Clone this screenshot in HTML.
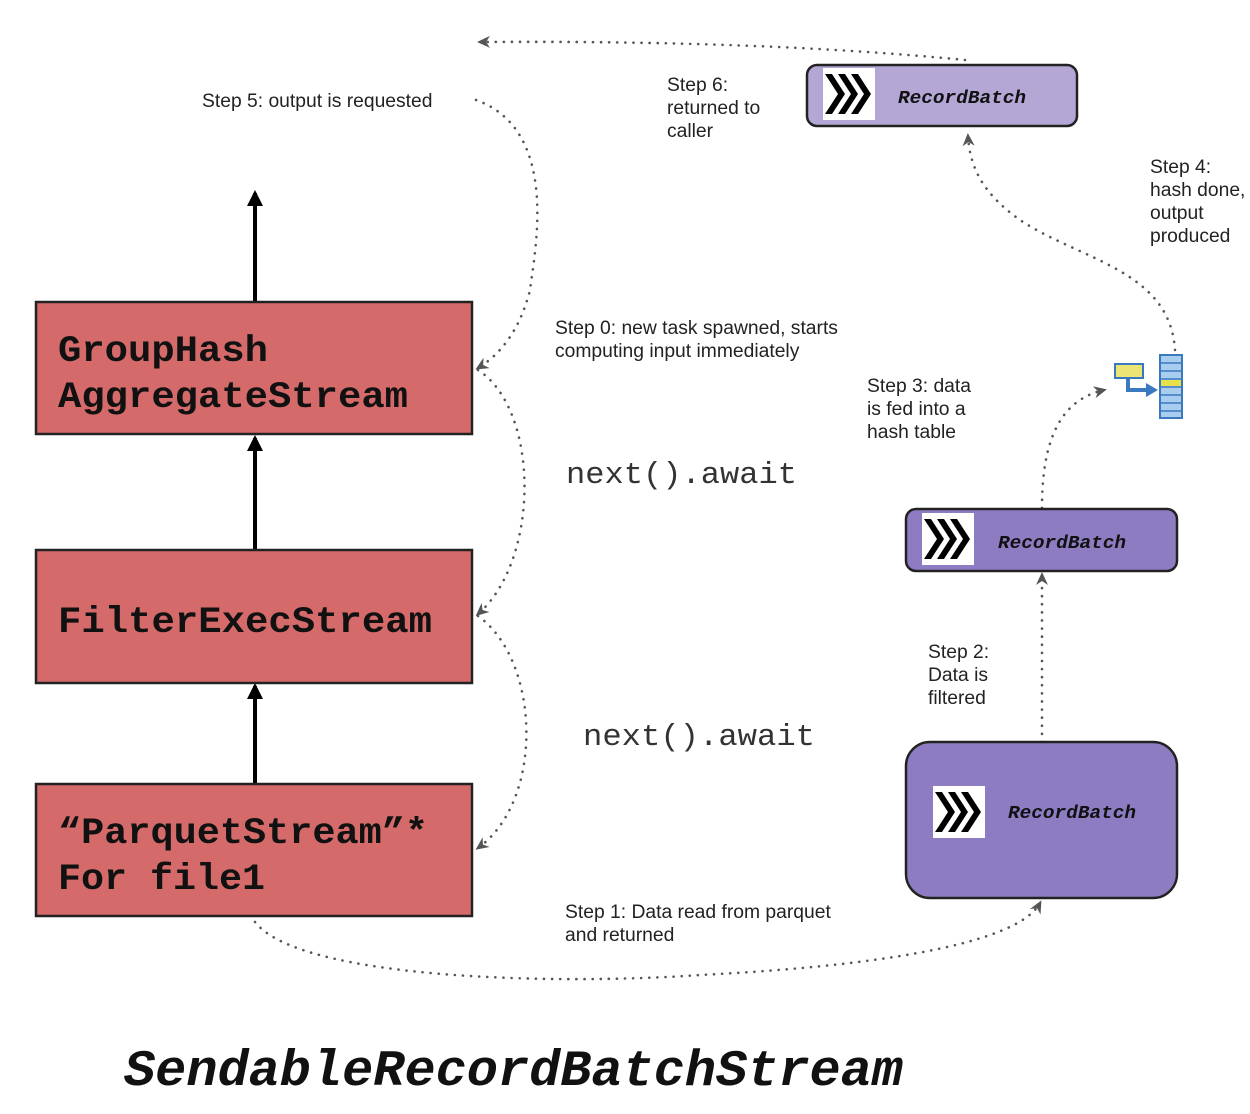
<!DOCTYPE html>
<html><head><meta charset="utf-8"><style>
html,body{margin:0;padding:0;background:#fff;}
svg{display:block;}
.mono{font-family:"Liberation Mono",monospace;}
.sans{font-family:"Liberation Sans",sans-serif;font-size:19.3px;fill:#222;}
</style></head><body>
<svg width="1250" height="1114" viewBox="0 0 1250 1114" xmlns="http://www.w3.org/2000/svg">
<defs>
<marker id="ah" markerWidth="14" markerHeight="14" refX="10" refY="7" orient="auto" markerUnits="userSpaceOnUse">
<path d="M0,1 L13,7 L0,13 L4,7 Z" fill="#555"/>
</marker>
<marker id="bh" markerWidth="16" markerHeight="16" refX="13" refY="8" orient="auto" markerUnits="userSpaceOnUse">
<path d="M0,0 L16,8 L0,16 Z" fill="#000"/>
</marker>
<g id="chev">
<rect x="0" y="0" width="52" height="52" fill="#fff"/>
<g fill="#000">
<polygon points="2,6 9,6 22,26 9,46 2,46 15,26"/>
<polygon points="15,6 22,6 35,26 22,46 15,46 28,26"/>
<polygon points="28,6 35,6 48,26 35,46 28,46 41,26"/>
</g>
</g>
</defs>

<g fill="none" stroke="#555" stroke-width="2.6" stroke-linecap="round" stroke-dasharray="0.1 8">
<path d="M965,60 Q760,40 480,42" marker-end="url(#ah)"/>
<path d="M476,100 C560,130 535,250 530,290 C520,330 500,355 478,368" marker-end="url(#ah)"/>
<path d="M478,370 C540,410 540,560 478,614" marker-end="url(#ah)"/>
<path d="M478,616 C540,660 545,800 478,848" marker-end="url(#ah)"/>
<path d="M255,922 C300,980 560,985 700,975 C900,965 1020,940 1040,903" marker-end="url(#ah)"/>
<path d="M1042,742 L1042,575" marker-end="url(#ah)"/>
<path d="M1042,508 C1042,440 1060,400 1104,390" marker-end="url(#ah)"/>
<path d="M1175,350 C1170,270 1080,260 1020,220 C985,195 970,170 968,136" marker-end="url(#ah)"/>
</g>

<g stroke="#000" stroke-width="4">
<line x1="255" y1="302" x2="255" y2="193" marker-end="url(#bh)"/>
<line x1="255" y1="550" x2="255" y2="438" marker-end="url(#bh)"/>
<line x1="255" y1="784" x2="255" y2="686" marker-end="url(#bh)"/>
</g>

<g fill="#d46b6a" stroke="#222" stroke-width="2.5">
<rect x="36" y="302" width="436" height="132"/>
<rect x="36" y="550" width="436" height="133"/>
<rect x="36" y="784" width="436" height="132"/>
</g>
<g class="mono" font-weight="bold" font-size="37" fill="#111" lengthAdjust="spacingAndGlyphs">
<text x="58" y="361" textLength="210" lengthAdjust="spacingAndGlyphs">GroupHash</text>
<text x="58" y="407" textLength="350" lengthAdjust="spacingAndGlyphs">AggregateStream</text>
<text x="58" y="632" textLength="374" lengthAdjust="spacingAndGlyphs">FilterExecStream</text>
<text x="58" y="843" textLength="370" lengthAdjust="spacingAndGlyphs">“ParquetStream”*</text>
<text x="58" y="889" textLength="207" lengthAdjust="spacingAndGlyphs">For file1</text>
</g>

<g class="mono" font-size="31" fill="#333">
<text x="566" y="483" textLength="231" lengthAdjust="spacingAndGlyphs">next().await</text>
<text x="583" y="745" textLength="232" lengthAdjust="spacingAndGlyphs">next().await</text>
</g>

<rect x="807" y="65" width="270" height="61" rx="10" fill="#b4a7d6" stroke="#222" stroke-width="2.5"/>
<use href="#chev" x="823" y="68"/>
<rect x="906" y="509" width="271" height="62" rx="10" fill="#8e7cc3" stroke="#222" stroke-width="2.5"/>
<use href="#chev" x="922" y="513"/>
<rect x="906" y="742" width="271" height="156" rx="24" fill="#8e7cc3" stroke="#222" stroke-width="2.5"/>
<use href="#chev" x="933" y="786"/>
<g class="mono" font-weight="bold" font-style="italic" font-size="18" fill="#111">
<text x="898" y="103" textLength="128" lengthAdjust="spacingAndGlyphs">RecordBatch</text>
<text x="998" y="548" textLength="128" lengthAdjust="spacingAndGlyphs">RecordBatch</text>
<text x="1008" y="818" textLength="128" lengthAdjust="spacingAndGlyphs">RecordBatch</text>
</g>

<g>
<rect x="1160" y="355" width="22" height="63" fill="#a9cdef" stroke="#3a78c0" stroke-width="2"/>
<g stroke="#3a78c0" stroke-width="1.5">
<line x1="1160" y1="363" x2="1182" y2="363"/><line x1="1160" y1="371" x2="1182" y2="371"/>
<line x1="1160" y1="379" x2="1182" y2="379"/><line x1="1160" y1="387" x2="1182" y2="387"/>
<line x1="1160" y1="395" x2="1182" y2="395"/><line x1="1160" y1="403" x2="1182" y2="403"/>
<line x1="1160" y1="411" x2="1182" y2="411"/>
</g>
<rect x="1161" y="380" width="20" height="6" fill="#e6e04a"/>
<rect x="1115" y="364" width="28" height="14" fill="#ece574" stroke="#3a78c0" stroke-width="2"/>
<path d="M1128,378 L1128,390 L1148,390" fill="none" stroke="#3a78c0" stroke-width="4"/>
<path d="M1146,383 L1158,390 L1146,397 Z" fill="#3a78c0"/>
</g>

<g class="sans">
<text x="202" y="107">Step 5: output is requested</text>
<text x="667" y="91">Step 6:</text>
<text x="667" y="114">returned to</text>
<text x="667" y="137">caller</text>
<text x="1150" y="173">Step 4:</text>
<text x="1150" y="196">hash done,</text>
<text x="1150" y="219">output</text>
<text x="1150" y="242">produced</text>
<text x="555" y="334">Step 0: new task spawned, starts</text>
<text x="555" y="357">computing input immediately</text>
<text x="867" y="392">Step 3: data</text>
<text x="867" y="415">is fed into a</text>
<text x="867" y="438">hash table</text>
<text x="928" y="658">Step 2:</text>
<text x="928" y="681">Data is</text>
<text x="928" y="704">filtered</text>
<text x="565" y="918">Step 1: Data read from parquet</text>
<text x="565" y="941">and returned</text>
</g>

<text x="124" y="1085" class="mono" font-weight="bold" font-style="italic" font-size="51" fill="#111" textLength="779" lengthAdjust="spacingAndGlyphs">SendableRecordBatchStream</text>
</svg>
</body></html>
